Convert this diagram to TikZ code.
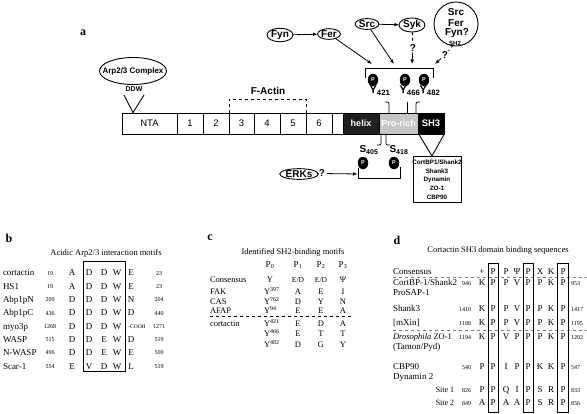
\documentclass[tikz,border=0pt]{standalone}
\usepackage{fontspec}
\setmainfont{Liberation Serif}
\setsansfont{Liberation Sans}
\usetikzlibrary{arrows.meta,shapes.geometric}
\tikzset{
  every node/.style={inner sep=0pt, outer sep=0pt},
  sf/.style={font=\sffamily\bfseries\fontsize{#1}{#1}\selectfont},
  sf/.default=10,
  oval/.style={ellipse, draw, line width=0.9pt, inner sep=0.3pt, sf=10},
  pc/.style={ellipse, fill=black, minimum width=10.5pt, minimum height=12.5pt, text=white, sf=5.5},
  arr/.style={-{Latex[length=4.5pt,width=3.6pt]}, line width=0.8pt},
  seg/.style={draw, line width=0.8pt, minimum height=21pt, anchor=west, font=\sffamily\fontsize{9.5}{10}\selectfont},
  plab/.style={font=\bfseries\fontsize{12}{14}\selectfont},
  ttl/.style={font=\fontsize{8.5}{10}\selectfont},
  tx/.style={font=\fontsize{#1}{#1}\selectfont, text height=0.66*#1 pt, text depth=0pt},
  tx/.default=9,
  num/.style={font=\fontsize{6}{6}\selectfont, text height=4.3pt, text depth=0pt},
  mbox/.style={draw, line width=1pt},
  sep/.style={gray, dashed, line width=0.5pt},
}
\begin{document}
\begin{tikzpicture}[x=1pt,y=-1pt]
\useasboundingbox (0,0) rectangle (587,413);
\fill[white] (0,0) rectangle (587,413);

% ================= panel a =================
\node[plab] (la) at (83,33) {a};

% Arp2/3
\node[draw, ellipse, line width=0.9pt, minimum width=67pt, minimum height=27pt] (arp) at (133,71) {};
\node[sf=8] (arpt) at (arp.center) {Arp2/3 Complex};
\node[sf=7] (ddw) at (134,89) {DDW};
\coordinate (vl) at (124,95); \coordinate (va) at (133,112.6); \coordinate (vr) at (144,95);
\draw[line width=0.9pt] (vl) -- (va) -- (vr);

% bar
\foreach \nm/\xx/\ww/\tt in {nta/122/55/NTA, r1/177/26/1, r2/203/26/2, r3/229/25/3, r4/254/26/4, r5/280/26/5, r6/306/26/6, rb/332/11/{}}
  \node[seg, minimum width=\ww pt] (\nm) at (\xx,123.5) {\tt};
\node[seg, minimum width=36pt, fill=black!88, text=white, font=\sffamily\bfseries\fontsize{9}{10}\selectfont] (helix) at (343,123.5) {helix};
\node[seg, minimum width=39pt, fill=gray!45, text=white, font=\sffamily\bfseries\fontsize{9}{10}\selectfont] (pro) at (379,123.5) {Pro-rich};
\node[seg, minimum width=26pt, fill=black, text=white, font=\sffamily\bfseries\fontsize{9.5}{10}\selectfont] (sh3) at (418,123.5) {SH3};

% F-actin bracket
\coordinate (fa1) at (229,113); \coordinate (fa2) at (229,99);
\coordinate (fa3) at (306,99); \coordinate (fa4) at (306,113);
\draw[dashed, line width=0.6pt] (fa1) -- (fa2) -- (fa3) -- (fa4);
\node[sf=10] (fact) at (268,91) {F-Actin};

% kinases
\node[oval] (fyn) at (280,35) {Fyn};
\node[oval] (fer) at (329,34) {Fer};
\node[oval] (src) at (367,24) {Src};
\node[oval] (syk) at (412,25) {Syk};
\draw[arr] (fyn) -- (fer);
\draw[arr] (src) -- (syk);
\node[draw, circle, line width=0.9pt, minimum size=44pt] (sff) at (456,24) {};
\node[sf=10] (sfa) at (456,12) {Src};
\node[sf=10] (sfb) at (456,23) {Fer};
\node[sf=10] (sfc) at (457,33.5) {Fyn?};
\node[sf=6] (sh2) at (455,43) {SH2};

% top bracket
\coordinate (bl) at (365,78); \coordinate (bt1) at (365,68);
\coordinate (bt2) at (433,68); \coordinate (br) at (433,78);
\draw[line width=0.9pt] (bl) -- (bt1) -- (bt2) -- (br);
\coordinate (t1) at (372,64); \coordinate (t2) at (394,64);
\coordinate (t3) at (412,64); \coordinate (t4) at (435,64);
\draw[arr] (fer) -- (t1);
\draw[arr] (src) -- (t2);
\node[sf=10] (q1) at (413,48) {?};
\draw[dashed, line width=0.8pt, shorten >=1pt] (syk) -- (q1);
\draw[arr, shorten <=1pt] (q1) -- (t3);
\node[sf=10] (q2) at (445,55) {?};
\draw[dashed, line width=0.8pt, shorten >=1pt] (sh2) -- (q2);
\draw[arr, shorten <=1pt] (q2) -- (t4);

% phosphotyrosines
\node[pc] (p1) at (373,80) {P};
\node[pc] (p2) at (405,80) {P};
\node[pc] (p3) at (424,80) {P};
\node[sf=11] (y1) at (380,91) {Y\textsubscript{421}};
\node[sf=11] (y2) at (410,91) {Y\textsubscript{466}};
\node[sf=11] (y3) at (430,91) {Y\textsubscript{482}};
\coordinate (c1a) at (385,102); \coordinate (c1k) at (389,102);
\coordinate (c1b) at (389,106); \coordinate (c1c) at (389,113.5);
\draw[line width=0.8pt] (c1a) .. controls (c1k) .. (c1b) -- (c1c);
\coordinate (c2a) at (407,102); \coordinate (c2b) at (407,113.5);
\draw[line width=0.8pt] (c2a) -- (c2b);
\coordinate (c3a) at (420,102); \coordinate (c3k) at (416,102);
\coordinate (c3b) at (416,106); \coordinate (c3c) at (416,113.5);
\draw[line width=0.8pt] (c3a) .. controls (c3k) .. (c3b) -- (c3c);

% phosphoserines
\coordinate (c4a) at (381,133.5); \coordinate (c4b) at (381,141);
\coordinate (c4k) at (381,145); \coordinate (c4c) at (377,145);
\draw[line width=0.8pt] (c4a) -- (c4b) .. controls (c4k) .. (c4c);
\coordinate (c5a) at (386,133.5); \coordinate (c5b) at (386,141);
\coordinate (c5k) at (386,145); \coordinate (c5c) at (390,145);
\draw[line width=0.8pt] (c5a) -- (c5b) .. controls (c5k) .. (c5c);
\node[sf=10] (s1) at (369,150) {S\textsubscript{405}};
\node[sf=10] (s2) at (399,150) {S\textsubscript{418}};
\node[pc] (p4) at (363,163) {P};
\node[pc] (p5) at (394,163) {P};
\coordinate (bb1) at (358,168); \coordinate (bb2) at (358,178);
\coordinate (bb3) at (400,178); \coordinate (bb4) at (400,167);
\draw[line width=0.9pt] (bb1) -- (bb2) -- (bb3) -- (bb4);
\coordinate (bbt) at (357.5,174);
\node[oval] (erk) at (299,174) {ERKs};
\node[sf=10] (q3) at (322,173.5) {?};
\draw[dashed, line width=0.8pt, shorten >=2pt] (erk) -- (q3);
\draw[arr, shorten <=2pt] (q3) -- (bbt);

% SH3 ligands
\coordinate (vl2) at (419,134.5); \coordinate (va2) at (432,156); \coordinate (vr2) at (444,134.5);
\draw[line width=0.9pt] (vl2) -- (va2) -- (vr2);
\node[draw, line width=1pt, minimum width=48pt, minimum height=46pt, anchor=north] (lbox) at (437,156) {};
\node[align=center, font=\sffamily\bfseries\fontsize{6.3}{8.7}\selectfont] (ltxt) at (437,179.5)
  {CortBP1/Shank2\\Shank3\\Dynamin\\ZO-1\\CBP90};

% ================= panel b =================
\node[plab] (lb) at (9,238) {b};
\node[ttl] (tb) at (106,253) {Acidic Arp2/3 interaction motifs};
\foreach \nm/\s/\a/\b/\c/\d/\e/\f [count=\i from 0] in
  {cortactin/19/A/D/D/W/E/23, HS1/19/A/D/D/W/E/23, Abp1pN/200/D/D/D/W/N/204,
   Abp1pC/436/D/D/D/W/D/440, myo3p/1268/D/D/D/W/{}/1271, WASP/515/D/D/E/W/D/519,
   N-WASP/496/D/D/E/W/E/500, Scar-1/554/E/V/D/W/L/519}
{
  \pgfmathsetmacro\yy{273+13.3*\i}
  \node[tx, anchor=west] (bn\i) at (3,\yy) {\nm};
  \node[num] (bs\i) at (50,\yy) {\s};
  \node[tx] (ba\i) at (72,\yy) {\a};
  \node[tx] (bb\i) at (89,\yy) {\b};
  \node[tx] (bc\i) at (104,\yy) {\c};
  \node[tx] (bd\i) at (117,\yy) {\d};
  \node[tx] (be\i) at (131,\yy) {\e};
  \node[num] (bf\i) at (159,\yy) {\f};
}
\node[font=\fontsize{5.5}{6}\selectfont, text height=4pt, text depth=0pt] (cooh) at (137,326.2) {-COOH};
\draw[mbox] (83,261) rectangle (125,371);

% ================= panel c =================
\node[plab] (lc) at (210,238) {c};
\node[ttl] (tc) at (293,252) {Identified SH2-binding motifs};
\node[tx] (h0) at (270,265) {P\textsubscript{0}};
\node[tx] (h1) at (298,265) {P\textsubscript{1}};
\node[tx] (h2) at (321,265) {P\textsubscript{2}};
\node[tx] (h3) at (343,265) {P\textsubscript{3}};
\node[tx=8.5, anchor=west] (cn0) at (210,280) {Consensus};
\node[tx=8.5] (c00) at (270,280) {Y};
\node[tx=7.5] (c01) at (298,280) {E/D};
\node[tx=7.5] (c02) at (321,280) {E/D};
\node[tx=8.5] (c03) at (343,280) {Ψ};
\foreach \nm/\y/\sup/\a/\b/\c in {FAK/291.5/397/A/E/I, CAS/301.5/762/D/Y/N, AFAP/311/94/E/E/A,
   cortactin/323.5/421/E/D/A, {}/334/466/E/T/T, {}/345/482/D/G/Y}
{
  \node[tx=8.5, anchor=west] (cn\sup) at (210,\y) {\nm};
  \node[tx=8.5, anchor=west] (cy\sup) at (264,\y) {Y\textsuperscript{\sup}};
  \node[tx=8.5] (ca\sup) at (298,\y) {\a};
  \node[tx=8.5] (cb\sup) at (321,\y) {\b};
  \node[tx=8.5] (cc\sup) at (343,\y) {\c};
}
\draw[dashed, line width=0.7pt] (210,316) -- (352,316);

% ================= panel d =================
\node[plab] (ld) at (397,240) {d};
\node[ttl] (td) at (498,250) {Cortactin SH3 domain binding sequences};
\node[tx, anchor=west] (dn1) at (393,272) {Consensus};
\node[tx, anchor=west] (dn2) at (393,283) {CortBP-1/Shank2};
\node[tx, anchor=west] (dn3) at (393,292.5) {ProSAP-1};
\node[tx, anchor=west] (dn4) at (393,309) {Shank3};
\node[tx, anchor=west] (dn5) at (393,323) {[mXin]};
\node[tx=8.5, anchor=west] (dn6) at (393,337) {\textit{Drosophila} ZO-1};
\node[tx, anchor=west] (dn7) at (393,346.5) {(Tamon/Pyd)};
\node[tx, anchor=west] (dn8) at (393,367) {CBP90};
\node[tx, anchor=west] (dn9) at (393,377) {Dynamin 2};
\node[tx=8] (dn10) at (445,390) {Site 1};
\node[tx=8] (dn11) at (445,403) {Site 2};
\foreach \y/\s/\e/\seq [count=\r] in
  {272/{}/{}/{+,P,P,Ψ,P,X,K,P}, 283/946/953/{K,P,P,V,P,P,K,P},
   309/1410/1417/{K,P,P,V,P,P,K,P}, 323/1188/1195/{K,P,P,V,P,P,K,P},
   337/1194/1202/{K,P,V,P,P,P,K,P}, 367/540/547/{P,P,I,P,P,K,K,P},
   390/826/833/{P,P,Q,I,P,S,R,P}, 403/849/856/{A,P,A,A,P,S,R,P}}
{
  \node[num, anchor=east] (ds\r) at (471,\y) {\s};
  \node[num, anchor=west] (de\r) at (571,\y) {\e};
  \foreach \L [count=\j] in \seq {
    \pgfmathsetmacro\xx{{482,493,506,517,528,540,551,563}[\j-1]}
    \node[tx] (dq\r-\j) at (\xx,\y) {\L};
  }
}
\draw[sep] (393,277.5) -- (587,277.5);
\draw[sep] (393,330) -- (587,330);
\draw[mbox] (488,263) rectangle (498.5,412);
\draw[mbox] (523,263) rectangle (533.5,412);
\draw[mbox] (557.5,263) rectangle (568,412);
\end{tikzpicture}
\end{document}
